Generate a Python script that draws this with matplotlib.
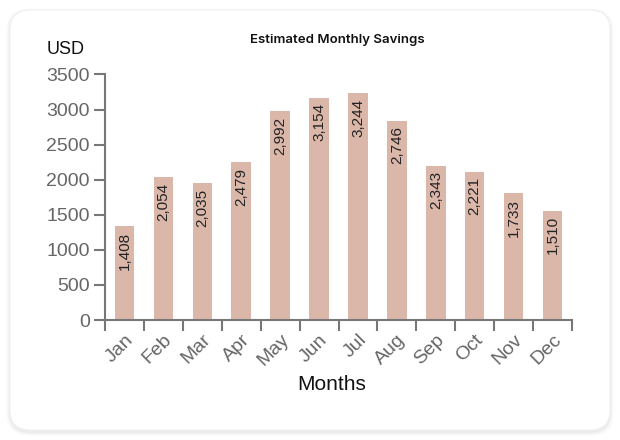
import matplotlib

matplotlib.use("Agg")
import matplotlib.pyplot as plt
from matplotlib.patches import FancyBboxPatch

months = ["Jan", "Feb", "Mar", "Apr", "May", "Jun", "Jul", "Aug", "Sep", "Oct", "Nov", "Dec"]
# bar heights as drawn in the chart
bar_values = [1340, 2035, 1950, 2250, 2980, 3170, 3230, 2840, 2200, 2115, 1810, 1560]
# numbers printed inside the bars
bar_labels = ["1,408", "2,054", "2,035", "2,479", "2,992", "3,154", "3,244", "2,746",
              "2,343", "2,221", "1,733", "1,510"]
y_ticks = [0, 500, 1000, 1500, 2000, 2500, 3000, 3500]

bar_color = "#dbb7aa"
axis_color = "#777777"
tick_color = "#666666"

plt.rcParams["font.family"] = ["Liberation Sans", "DejaVu Sans"]

fig = plt.figure(figsize=(6.2, 4.4), dpi=100)
fig.patch.set_facecolor("white")

# card with soft shadow
for i, a in enumerate([0.02, 0.025, 0.03]):
    off = (3 - i) * 1.2
    fig.patches.append(FancyBboxPatch(
        (10 - off, 10 - off - 2), 600 + 2 * off, 420 + 2 * off,
        boxstyle="round,pad=0,rounding_size=22", transform=None,
        facecolor="black", edgecolor="none", alpha=a, zorder=0))
fig.patches.append(FancyBboxPatch(
    (10, 10), 600, 420, boxstyle="round,pad=0,rounding_size=20", transform=None,
    facecolor="white", edgecolor="#f0f0f0", linewidth=0.8, zorder=1))

ax = fig.add_axes([105 / 620, 1 - 320 / 440, (572 - 105) / 620, (320 - 74.5) / 440])
ax.set_zorder(3)
ax.set_facecolor("none")

x = list(range(len(months)))
ax.bar(x, bar_values, width=0.5, color=bar_color, edgecolor="none", zorder=2)
for xi, val, lab in zip(x, bar_values, bar_labels):
    ax.annotate(lab, xy=(xi, val), xytext=(0, -4), textcoords="offset points",
                rotation=90, ha="center", va="top", fontsize=11, color="#222222")

ax.set_xlim(-0.5, len(months) - 0.5)
ax.set_ylim(0, 3500)
ax.set_yticks(y_ticks)
ax.set_yticklabels([str(v) for v in y_ticks], fontsize=14, color=tick_color)

ax.set_xticks(x)
ax.set_xticklabels(months, rotation=45, ha="right", rotation_mode="anchor",
                   fontsize=14, color=tick_color)
ax.set_xticks([i - 0.5 for i in range(len(months) + 1)], minor=True)
ax.tick_params(axis="x", which="major", length=0, pad=8)
ax.tick_params(axis="x", which="minor", length=8, width=1.5, color=axis_color)
ax.tick_params(axis="y", length=8, width=1.5, color=axis_color, pad=3)

for side in ["top", "right"]:
    ax.spines[side].set_visible(False)
for side in ["left", "bottom"]:
    ax.spines[side].set_color(axis_color)
    ax.spines[side].set_linewidth(1.5)

fig.text(47 / 620, 1 - 50 / 440, "USD", fontsize=13, color="#111111", va="center", ha="left")
fig.text(337 / 620, 1 - 40 / 440, "Estimated Monthly Savings", fontsize=9.5, fontweight="semibold",
         family=["Inter", "DejaVu Sans"], color="#111111", ha="center", va="center")
fig.text(332 / 620, 1 - 384 / 440, "Months", fontsize=15, color="#111111", ha="center", va="center")

fig.savefig("out.png", dpi=100)
